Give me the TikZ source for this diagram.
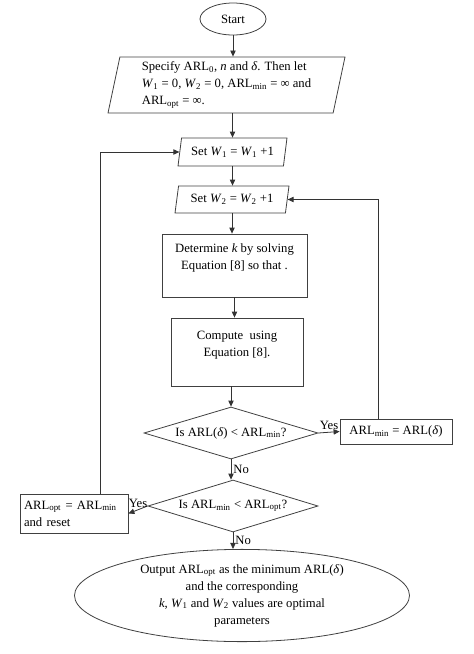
\documentclass[tikz,border=0pt]{standalone}
\usepackage{fontspec}
\setmainfont{Liberation Serif}
\usetikzlibrary{shapes.geometric,arrows.meta}
\newcommand{\ARL}[1]{ARL\textsubscript{#1}}
\newcommand{\Wv}[1]{\textit{W}\textsubscript{#1}}

\begin{document}
\begin{tikzpicture}[
    x=0.75pt, y=-0.75pt,
    font=\fontsize{9.5}{12.75}\selectfont,
    terminal/.style={ellipse, draw=black!75, line width=0.6pt, inner sep=1pt},
    iobox/.style={trapezium, trapezium left angle=77, trapezium right angle=103,
        trapezium stretches body, draw=black!75, line width=0.6pt, inner sep=2pt},
    process/.style={rectangle, draw=black!75, line width=0.6pt, inner sep=2pt},
    decision/.style={diamond, aspect=3.3, draw=black!75, line width=0.6pt, inner sep=0pt},
    arrow/.style={draw=black!80, line width=0.6pt, -{Triangle[length=4.5pt,width=4pt]}},
    tag/.style={font=\fontsize{9.5}{11}\selectfont, inner sep=1.5pt}
]
    \useasboundingbox (0,0) rectangle (474,654);
    \node[terminal, minimum width=49.5pt, minimum height=24pt] (start) at (233,19) {Start};
    \node[iobox, minimum width=177.75pt, minimum height=42pt, align=left] (spec) at (226.5,85)
        {Specify \ARL{0}, \textit{n} and \textit{δ}. Then let\\
         \Wv{1} = 0, \Wv{2} = 0, \ARL{min} = ∞ and\\
         \ARL{opt} = ∞.};
    \node[iobox, minimum width=81.75pt, minimum height=21pt] (w1) at (232.5,152)
        {Set \Wv{1} = \Wv{1} +1};
    \node[iobox, minimum width=85.5pt, minimum height=20.25pt] (w2) at (232,199.5)
        {Set \Wv{2} = \Wv{2} +1};
    \node[process, minimum width=108.75pt, minimum height=47.25pt, align=center] (det) at (234.5,265.5)
        {Determine \textit{k} by solving\\Equation [8] so that .\\\mbox{}};
    \node[process, minimum width=99pt, minimum height=51pt, align=center] (comp) at (237,352)
        {Compute~ using\\Equation [8].\\\mbox{}};
    \node[decision, minimum width=130.5pt, minimum height=39pt] (dia1) at (231,433)
        {Is ARL(\textit{δ}) < \ARL{min}?};
    \node[process, minimum width=84pt, minimum height=18.75pt] (armin) at (396,431.5)
        {\ARL{min} = ARL(\textit{δ})};
    \node[decision, minimum width=127.5pt, minimum height=39pt] (dia2) at (233,506)
        {Is \ARL{min} < \ARL{opt}?};
    \node[process, minimum width=81pt, minimum height=29.25pt, align=left, text width=75pt] (aropt) at (74,513.5)
        {\ARL{opt} = \ARL{min}\\and reset};
    \node[terminal, minimum width=251.25pt, minimum height=63.75pt, align=center] (output) at (242,595.5)
        {Output \ARL{opt} as the minimum ARL(\textit{δ})\\
         and the corresponding\\
         \textit{k}, \Wv{1} and \Wv{2} values are optimal\\
         parameters};

    \draw[arrow] (start.south) -- (start.south |- spec.north);
    \draw[arrow] (w1.north |- spec.south) -- (w1.north);
    \draw[arrow] (w1.south) -- (w1.south |- w2.north);
    \draw[arrow] (w2.south) -- (w2.south |- det.north);
    \draw[arrow] (det.south) -- (det.south |- comp.north);
    \draw[arrow] (dia1.north |- comp.south) -- (dia1.north);
    \draw[arrow] (dia1.east) -- node[tag, above] {Yes} (armin.west);
    \draw[arrow] ([xshift=-13.5pt]armin.north) |- (w2.east);
    \draw[arrow] (dia1.south) -- node[tag, right] {No} (dia1.south |- dia2.north);
    \draw[arrow] (dia2.west) -- node[tag, above] {Yes} (aropt.east);
    \draw[arrow] ([xshift=19.5pt]aropt.north) |- (w1.west);
    \draw[arrow] (dia2.south) -- node[tag, right] {No} (dia2.south |- output.north);
\end{tikzpicture}
\end{document}
